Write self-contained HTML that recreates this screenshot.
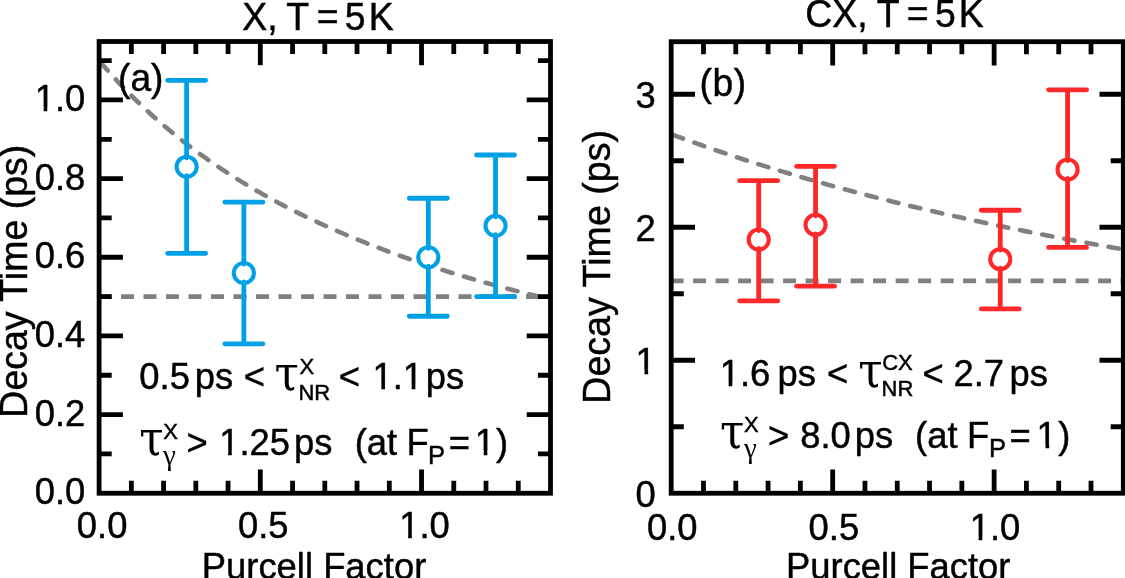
<!DOCTYPE html><html><head><meta charset="utf-8"><title>Decay time vs Purcell factor</title><style>html,body{margin:0;padding:0;background:#fff;overflow:hidden}svg{display:block}text{font-family:"Liberation Sans",sans-serif;font-size:36.4px;fill:#000;stroke:#000;stroke-width:.45px}.g{font-family:"Liberation Serif",serif;stroke:none}</style></head><body>
<svg width="1125" height="578" viewBox="0 0 1125 578">
<rect width="1125" height="578" fill="#fff"/>
<path d="M98.5 296.60 H550.5" fill="none" stroke="#808080" stroke-width="4.6" stroke-dasharray="13 9.5"/>
<polyline points="99.10,60.62 102.32,64.39 105.55,68.10 108.77,71.75 112.00,75.33 115.22,78.85 118.45,82.32 121.67,85.72 124.89,89.07 128.12,92.37 131.34,95.61 134.57,98.80 137.79,101.94 141.02,105.03 144.24,108.07 147.46,111.07 150.69,114.02 153.91,116.92 157.14,119.78 160.36,122.59 163.59,125.37 166.81,128.10 170.03,130.79 173.26,133.44 176.48,136.06 179.71,138.64 182.93,141.17 186.16,143.68 189.38,146.15 192.60,148.58 195.83,150.98 199.05,153.35 202.28,155.68 205.50,157.98 208.73,160.25 211.95,162.49 215.17,164.70 218.40,166.88 221.62,169.04 224.85,171.16 228.07,173.26 231.30,175.33 234.52,177.37 237.74,179.39 240.97,181.38 244.19,183.34 247.42,185.28 250.64,187.20 253.87,189.10 257.09,190.97 260.31,192.81 263.54,194.64 266.76,196.44 269.99,198.22 273.21,199.98 276.44,201.72 279.66,203.44 282.88,205.14 286.11,206.82 289.33,208.48 292.56,210.12 295.78,211.74 299.01,213.34 302.23,214.92 305.45,216.49 308.68,218.04 311.90,219.57 315.13,221.09 318.35,222.59 321.58,224.07 324.80,225.53 328.02,226.98 331.25,228.42 334.47,229.84 337.70,231.24 340.92,232.63 344.15,234.00 347.37,235.36 350.59,236.71 353.82,238.04 357.04,239.36 360.27,240.66 363.49,241.95 366.72,243.23 369.94,244.50 373.16,245.75 376.39,246.99 379.61,248.22 382.84,249.43 386.06,250.64 389.29,251.83 392.51,253.01 395.73,254.18 398.96,255.33 402.18,256.48 405.41,257.61 408.63,258.74 411.86,259.85 415.08,260.95 418.30,262.05 421.53,263.13 424.75,264.20 427.98,265.26 431.20,266.31 434.43,267.36 437.65,268.39 440.87,269.41 444.10,270.43 447.32,271.43 450.55,272.43 453.77,273.42 457.00,274.40 460.22,275.37 463.44,276.33 466.67,277.28 469.89,278.23 473.12,279.16 476.34,280.09 479.57,281.01 482.79,281.92 486.01,282.83 489.24,283.72 492.46,284.61 495.69,285.49 498.91,286.37 502.14,287.24 505.36,288.10 508.58,288.95 511.81,289.79 515.03,290.63 518.26,291.46 521.48,292.29 524.71,293.11 527.93,293.92 531.15,294.72 534.38,295.52 537.60,296.31 540.83,297.10 544.05,297.88 547.28,298.65 550.50,299.42" fill="none" stroke="#808080" stroke-width="4.6" stroke-linecap="round" stroke-linejoin="round" stroke-dasharray="10.4 12.1" stroke-dashoffset="-2.8"/>
<path d="M670.6 280.85 H1123.3" fill="none" stroke="#808080" stroke-width="4.6" stroke-dasharray="13 9.5"/>
<polyline points="671.20,134.15 674.43,135.36 677.66,136.56 680.89,137.75 684.12,138.93 687.35,140.11 690.58,141.28 693.81,142.44 697.03,143.59 700.26,144.74 703.49,145.87 706.72,147.00 709.95,148.13 713.18,149.24 716.41,150.35 719.64,151.45 722.87,152.55 726.10,153.64 729.33,154.72 732.56,155.79 735.79,156.86 739.01,157.92 742.24,158.97 745.47,160.02 748.70,161.06 751.93,162.09 755.16,163.12 758.39,164.14 761.62,165.15 764.85,166.16 768.08,167.17 771.31,168.16 774.54,169.15 777.77,170.14 781.00,171.11 784.23,172.09 787.45,173.05 790.68,174.01 793.91,174.97 797.14,175.92 800.37,176.86 803.60,177.80 806.83,178.73 810.06,179.66 813.29,180.58 816.52,181.50 819.75,182.41 822.98,183.31 826.21,184.21 829.43,185.11 832.66,186.00 835.89,186.88 839.12,187.76 842.35,188.64 845.58,189.51 848.81,190.37 852.04,191.23 855.27,192.09 858.50,192.94 861.73,193.78 864.96,194.62 868.19,195.46 871.42,196.29 874.64,197.12 877.87,197.94 881.10,198.75 884.33,199.57 887.56,200.38 890.79,201.18 894.02,201.98 897.25,202.77 900.48,203.57 903.71,204.35 906.94,205.13 910.17,205.91 913.40,206.69 916.63,207.46 919.86,208.22 923.08,208.98 926.31,209.74 929.54,210.49 932.77,211.24 936.00,211.99 939.23,212.73 942.46,213.47 945.69,214.20 948.92,214.93 952.15,215.66 955.38,216.38 958.61,217.10 961.84,217.81 965.07,218.52 968.29,219.23 971.52,219.94 974.75,220.64 977.98,221.33 981.21,222.03 984.44,222.72 987.67,223.40 990.90,224.08 994.13,224.76 997.36,225.44 1000.59,226.11 1003.82,226.78 1007.05,227.45 1010.28,228.11 1013.50,228.77 1016.73,229.42 1019.96,230.08 1023.19,230.73 1026.42,231.37 1029.65,232.02 1032.88,232.65 1036.11,233.29 1039.34,233.93 1042.57,234.56 1045.80,235.18 1049.03,235.81 1052.26,236.43 1055.48,237.05 1058.71,237.66 1061.94,238.28 1065.17,238.88 1068.40,239.49 1071.63,240.10 1074.86,240.70 1078.09,241.29 1081.32,241.89 1084.55,242.48 1087.78,243.07 1091.01,243.66 1094.24,244.24 1097.47,244.82 1100.69,245.40 1103.92,245.98 1107.15,246.55 1110.38,247.12 1113.61,247.69 1116.84,248.26 1120.07,248.82 1123.30,249.38" fill="none" stroke="#808080" stroke-width="4.6" stroke-linecap="round" stroke-linejoin="round" stroke-dasharray="10.4 12.1" stroke-dashoffset="-2.2"/>
<g stroke="#00A0E6" stroke-width="4.8" fill="none"><path d="M186.64 80.28 V253.34M167.64 80.28 h38.0M167.64 253.34 h38.0" stroke-linecap="round"/><circle cx="186.64" cy="166.81" r="10.05" fill="#fff" stroke-width="4.1"/><path d="M186.64 155.76 v2.5M186.64 177.86 v-2.5" stroke-linecap="round" stroke-width="4.0"/><path d="M243.87 202.21 V343.80M224.87 202.21 h38.0M224.87 343.80 h38.0" stroke-linecap="round"/><circle cx="243.87" cy="273.00" r="10.05" fill="#fff" stroke-width="4.1"/><path d="M243.87 261.95 v2.5M243.87 284.05 v-2.5" stroke-linecap="round" stroke-width="4.0"/><path d="M428.30 198.27 V316.26M409.30 198.27 h38.0M409.30 316.26 h38.0" stroke-linecap="round"/><circle cx="428.30" cy="257.27" r="10.05" fill="#fff" stroke-width="4.1"/><path d="M428.30 246.22 v2.5M428.30 268.32 v-2.5" stroke-linecap="round" stroke-width="4.0"/><path d="M495.53 155.01 V296.60M476.53 155.01 h38.0M476.53 296.60 h38.0" stroke-linecap="round"/><circle cx="495.53" cy="225.81" r="10.05" fill="#fff" stroke-width="4.1"/><path d="M495.53 214.76 v2.5M495.53 236.86 v-2.5" stroke-linecap="round" stroke-width="4.0"/></g>
<g stroke="#FF2828" stroke-width="4.8" fill="none"><path d="M758.71 180.70 V300.93M739.71 180.70 h38.0M739.71 300.93 h38.0" stroke-linecap="round"/><circle cx="758.71" cy="239.49" r="10.05" fill="#fff" stroke-width="4.1"/><path d="M758.71 228.44 v2.5M758.71 250.54 v-2.5" stroke-linecap="round" stroke-width="4.0"/><path d="M815.55 166.34 V286.17M796.55 166.34 h38.0M796.55 286.17 h38.0" stroke-linecap="round"/><circle cx="815.55" cy="224.86" r="10.05" fill="#fff" stroke-width="4.1"/><path d="M815.55 213.81 v2.5M815.55 235.91 v-2.5" stroke-linecap="round" stroke-width="4.0"/><path d="M1000.26 210.23 V308.91M981.26 210.23 h38.0M981.26 308.91 h38.0" stroke-linecap="round"/><circle cx="1000.26" cy="259.17" r="10.05" fill="#fff" stroke-width="4.1"/><path d="M1000.26 248.12 v2.5M1000.26 270.22 v-2.5" stroke-linecap="round" stroke-width="4.0"/><path d="M1067.59 89.86 V247.47M1048.59 89.86 h38.0M1048.59 247.47 h38.0" stroke-linecap="round"/><circle cx="1067.59" cy="169.53" r="10.05" fill="#fff" stroke-width="4.1"/><path d="M1067.59 158.48 v2.5M1067.59 180.58 v-2.5" stroke-linecap="round" stroke-width="4.0"/></g>
<g stroke="#000" stroke-width="4.8" fill="none" stroke-linecap="butt" stroke-linejoin="miter"><path d="M131.34 493.25 v-12.6M131.34 41.5 v12.6"/><path d="M163.59 493.25 v-12.6M163.59 41.5 v12.6"/><path d="M195.83 493.25 v-12.6M195.83 41.5 v12.6"/><path d="M228.07 493.25 v-12.6M228.07 41.5 v12.6"/><path d="M260.31 493.25 v-23.8M260.31 41.5 v23.8"/><path d="M292.56 493.25 v-12.6M292.56 41.5 v12.6"/><path d="M324.80 493.25 v-12.6M324.80 41.5 v12.6"/><path d="M357.04 493.25 v-12.6M357.04 41.5 v12.6"/><path d="M389.29 493.25 v-12.6M389.29 41.5 v12.6"/><path d="M421.53 493.25 v-23.8M421.53 41.5 v23.8"/><path d="M453.77 493.25 v-12.6M453.77 41.5 v12.6"/><path d="M486.01 493.25 v-12.6M486.01 41.5 v12.6"/><path d="M518.26 493.25 v-12.6M518.26 41.5 v12.6"/><path d="M99.1 414.59 h23.8M550.5 414.59 h-23.8"/><path d="M99.1 335.93 h23.8M550.5 335.93 h-23.8"/><path d="M99.1 257.27 h23.8M550.5 257.27 h-23.8"/><path d="M99.1 178.61 h23.8M550.5 178.61 h-23.8"/><path d="M99.1 99.95 h23.8M550.5 99.95 h-23.8"/><path d="M99.1 453.92 h12.6M550.5 453.92 h-12.6"/><path d="M99.1 375.26 h12.6M550.5 375.26 h-12.6"/><path d="M99.1 296.60 h12.6M550.5 296.60 h-12.6"/><path d="M99.1 217.94 h12.6M550.5 217.94 h-12.6"/><path d="M99.1 139.28 h12.6M550.5 139.28 h-12.6"/><path d="M99.1 60.62 h12.6M550.5 60.62 h-12.6"/><rect x="99.1" y="41.5" width="451.4" height="451.75" fill="none"/></g>
<g stroke="#000" stroke-width="4.8" fill="none" stroke-linecap="butt" stroke-linejoin="miter"><path d="M703.49 493.25 v-12.6M703.49 41.7 v12.6"/><path d="M735.79 493.25 v-12.6M735.79 41.7 v12.6"/><path d="M768.08 493.25 v-12.6M768.08 41.7 v12.6"/><path d="M800.37 493.25 v-12.6M800.37 41.7 v12.6"/><path d="M832.66 493.25 v-23.8M832.66 41.7 v23.8"/><path d="M864.96 493.25 v-12.6M864.96 41.7 v12.6"/><path d="M897.25 493.25 v-12.6M897.25 41.7 v12.6"/><path d="M929.54 493.25 v-12.6M929.54 41.7 v12.6"/><path d="M961.84 493.25 v-12.6M961.84 41.7 v12.6"/><path d="M994.13 493.25 v-23.8M994.13 41.7 v23.8"/><path d="M1026.42 493.25 v-12.6M1026.42 41.7 v12.6"/><path d="M1058.71 493.25 v-12.6M1058.71 41.7 v12.6"/><path d="M1091.01 493.25 v-12.6M1091.01 41.7 v12.6"/><path d="M671.2 360.25 h23.8M1123.3 360.25 h-23.8"/><path d="M671.2 227.25 h23.8M1123.3 227.25 h-23.8"/><path d="M671.2 94.25 h23.8M1123.3 94.25 h-23.8"/><path d="M671.2 426.75 h12.6M1123.3 426.75 h-12.6"/><path d="M671.2 293.75 h12.6M1123.3 293.75 h-12.6"/><path d="M671.2 160.75 h12.6M1123.3 160.75 h-12.6"/><rect x="671.2" y="41.7" width="452.0999999999999" height="451.55" fill="none"/></g>
<text transform="translate(242.30 30.40) scale(1 1.035)" style="font-size:37.4px">X,</text>
<text transform="translate(286.20 30.40) scale(1 1.035)" style="font-size:37.4px">T</text>
<text transform="translate(316.80 30.40) scale(1 1.035)" style="font-size:37.4px">=</text>
<text transform="translate(344.70 30.40) scale(1 1.035)" style="font-size:37.4px">5</text>
<text transform="translate(368.80 30.40) scale(1 1.035)" style="font-size:37.4px">K</text>
<text transform="translate(805.20 26.60) scale(1 1.035)" style="font-size:37.4px">CX,</text>
<text transform="translate(876.80 26.60) scale(1 1.035)" style="font-size:37.4px">T</text>
<text transform="translate(906.80 26.60) scale(1 1.035)" style="font-size:37.4px">=</text>
<text transform="translate(934.90 26.60) scale(1 1.035)" style="font-size:37.4px">5</text>
<text transform="translate(958.80 26.60) scale(1 1.035)" style="font-size:37.4px">K</text>
<text transform="translate(85.30 504.25) scale(1 1.035)" text-anchor="end" >0.0</text>
<text transform="translate(85.30 425.59) scale(1 1.035)" text-anchor="end" >0.2</text>
<text transform="translate(85.30 346.93) scale(1 1.035)" text-anchor="end" >0.4</text>
<text transform="translate(85.30 268.27) scale(1 1.035)" text-anchor="end" >0.6</text>
<text transform="translate(85.30 189.61) scale(1 1.035)" text-anchor="end" >0.8</text>
<text transform="translate(85.30 110.95) scale(1 1.035)" text-anchor="end" >1.0</text>
<text transform="translate(655.80 506.65) scale(1 1.035)" text-anchor="end" >0</text>
<text transform="translate(655.80 373.65) scale(1 1.035)" text-anchor="end" >1</text>
<text transform="translate(655.80 240.65) scale(1 1.035)" text-anchor="end" >2</text>
<text transform="translate(655.80 107.65) scale(1 1.035)" text-anchor="end" >3</text>
<text transform="translate(102.10 538.00) scale(1 1.035)" text-anchor="middle" >0.0</text>
<text transform="translate(263.31 538.00) scale(1 1.035)" text-anchor="middle" >0.5</text>
<text transform="translate(424.53 538.00) scale(1 1.035)" text-anchor="middle" >1.0</text>
<text transform="translate(672.30 540.20) scale(1 1.035)" text-anchor="middle" >0.0</text>
<text transform="translate(833.90 540.20) scale(1 1.035)" text-anchor="middle" >0.5</text>
<text transform="translate(995.00 540.20) scale(1 1.035)" text-anchor="middle" >1.0</text>
<text transform="translate(201.80 578.60) scale(1 1.035)" >Purcell Factor</text>
<text transform="translate(786.00 578.60) scale(1 1.035)" >Purcell Factor</text>
<text transform="translate(27.4 417.7) rotate(-90) scale(1 1.035)" style="font-size:37.5px">Decay Time (ps)</text>
<text transform="translate(610.3 403.8) rotate(-90) scale(1 1.035)" style="font-size:37.65px">Decay Time (ps)</text>
<text transform="translate(118.00 91.30) scale(1 1.035)" style="font-size:37.2px">(a)</text>
<text transform="translate(699.60 96.10) scale(1 1.035)" style="font-size:37.2px;letter-spacing:.6px">(b)</text>
<text transform="translate(139.30 389.10) scale(1 1.035)" >0.5</text>
<text transform="translate(194.80 389.10) scale(1 1.035)" >ps</text>
<text transform="translate(243.80 389.10) scale(1 1.035)" >&lt;</text>
<text transform="translate(274.4 389.90) scale(0.9 1)" style="font-family:'DejaVu Serif',serif;font-size:49px;stroke:none">τ</text>
<text transform="translate(299.60 373.50) scale(1 1.035)" style="font-size:22.0px">X</text>
<text transform="translate(298.40 399.80) scale(1 1.035)" style="font-size:22.0px">NR</text>
<text transform="translate(338.80 389.10) scale(1 1.035)" >&lt;</text>
<text transform="translate(372.40 389.10) scale(1 1.035)" >1.1</text>
<text transform="translate(425.80 389.10) scale(1 1.035)" >ps</text>
<text transform="translate(139.2 454.80) scale(0.9 1)" style="font-family:'DejaVu Serif',serif;font-size:49px;stroke:none">τ</text>
<text transform="translate(163.20 438.70) scale(1 1.035)" style="font-size:22.0px">X</text>
<text class="g" transform="translate(163.0 464.6) scale(1.0 1)" style="font-size:29px">γ</text>
<text transform="translate(186.60 454.60) scale(1 1.035)" >&gt;</text>
<text transform="translate(219.20 454.60) scale(1 1.035)" >1.25</text>
<text transform="translate(294.10 454.60) scale(1 1.035)" >ps</text>
<text transform="translate(354.80 454.60) scale(1 1.035)" >(</text>
<text transform="translate(366.80 454.60) scale(1 1.035)" >at</text>
<text transform="translate(406.40 454.60) scale(1 1.035)" >F</text>
<text transform="translate(428.00 464.00) scale(1 1.035)" style="font-size:25.5px">P</text>
<text transform="translate(448.70 454.60) scale(1 1.035)" >=</text>
<text transform="translate(474.80 454.60) scale(1 1.035)" >1</text>
<text transform="translate(496.00 454.60) scale(1 1.035)" >)</text>
<text transform="translate(719.70 386.20) scale(1 1.035)" >1.6</text>
<text transform="translate(777.50 386.20) scale(1 1.035)" >ps</text>
<text transform="translate(826.90 386.20) scale(1 1.035)" >&lt;</text>
<text transform="translate(858.2 386.60) scale(0.9 1)" style="font-family:'DejaVu Serif',serif;font-size:49px;stroke:none">τ</text>
<text transform="translate(882.20 370.30) scale(1 1.035)" style="font-size:22.0px">CX</text>
<text transform="translate(881.60 396.40) scale(1 1.035)" style="font-size:22.0px">NR</text>
<text transform="translate(922.50 386.20) scale(1 1.035)" >&lt;</text>
<text transform="translate(953.40 386.20) scale(1 1.035)" >2.7</text>
<text transform="translate(1009.60 386.20) scale(1 1.035)" >ps</text>
<text transform="translate(719.9 448.40) scale(0.9 1)" style="font-family:'DejaVu Serif',serif;font-size:49px;stroke:none">τ</text>
<text transform="translate(744.00 432.00) scale(1 1.035)" style="font-size:22.0px">X</text>
<text class="g" transform="translate(743.9 457.9) scale(1.0 1)" style="font-size:29px">γ</text>
<text transform="translate(768.10 447.90) scale(1 1.035)" >&gt;</text>
<text transform="translate(800.20 447.90) scale(1 1.035)" >8.0</text>
<text transform="translate(854.70 447.90) scale(1 1.035)" >ps</text>
<text transform="translate(915.10 447.90) scale(1 1.035)" >(</text>
<text transform="translate(927.20 447.90) scale(1 1.035)" >at</text>
<text transform="translate(967.00 447.90) scale(1 1.035)" >F</text>
<text transform="translate(989.10 457.30) scale(1 1.035)" style="font-size:25.5px">P</text>
<text transform="translate(1009.60 447.90) scale(1 1.035)" >=</text>
<text transform="translate(1036.60 447.90) scale(1 1.035)" >1</text>
<text transform="translate(1058.20 447.90) scale(1 1.035)" >)</text>
<g fill="#fff"><rect x="36.16" y="107.47" width="7.46" height="4.88"/><rect x="47.30" y="107.47" width="7.28" height="4.88"/><rect x="637.02" y="370.17" width="7.46" height="4.88"/><rect x="648.16" y="370.17" width="7.28" height="4.88"/><rect x="400.69" y="534.52" width="7.46" height="4.88"/><rect x="411.83" y="534.52" width="7.28" height="4.88"/><rect x="971.16" y="536.72" width="7.46" height="4.88"/><rect x="982.30" y="536.72" width="7.28" height="4.88"/><rect x="373.86" y="385.62" width="7.46" height="4.88"/><rect x="385.00" y="385.62" width="7.28" height="4.88"/><rect x="404.21" y="385.62" width="7.46" height="4.88"/><rect x="415.35" y="385.62" width="7.28" height="4.88"/><rect x="220.66" y="451.12" width="7.46" height="4.88"/><rect x="231.80" y="451.12" width="7.28" height="4.88"/><rect x="476.26" y="451.12" width="7.46" height="4.88"/><rect x="487.40" y="451.12" width="7.28" height="4.88"/><rect x="721.16" y="382.72" width="7.46" height="4.88"/><rect x="732.30" y="382.72" width="7.28" height="4.88"/><rect x="1038.06" y="444.42" width="7.46" height="4.88"/><rect x="1049.20" y="444.42" width="7.28" height="4.88"/></g>
</svg></body></html>
